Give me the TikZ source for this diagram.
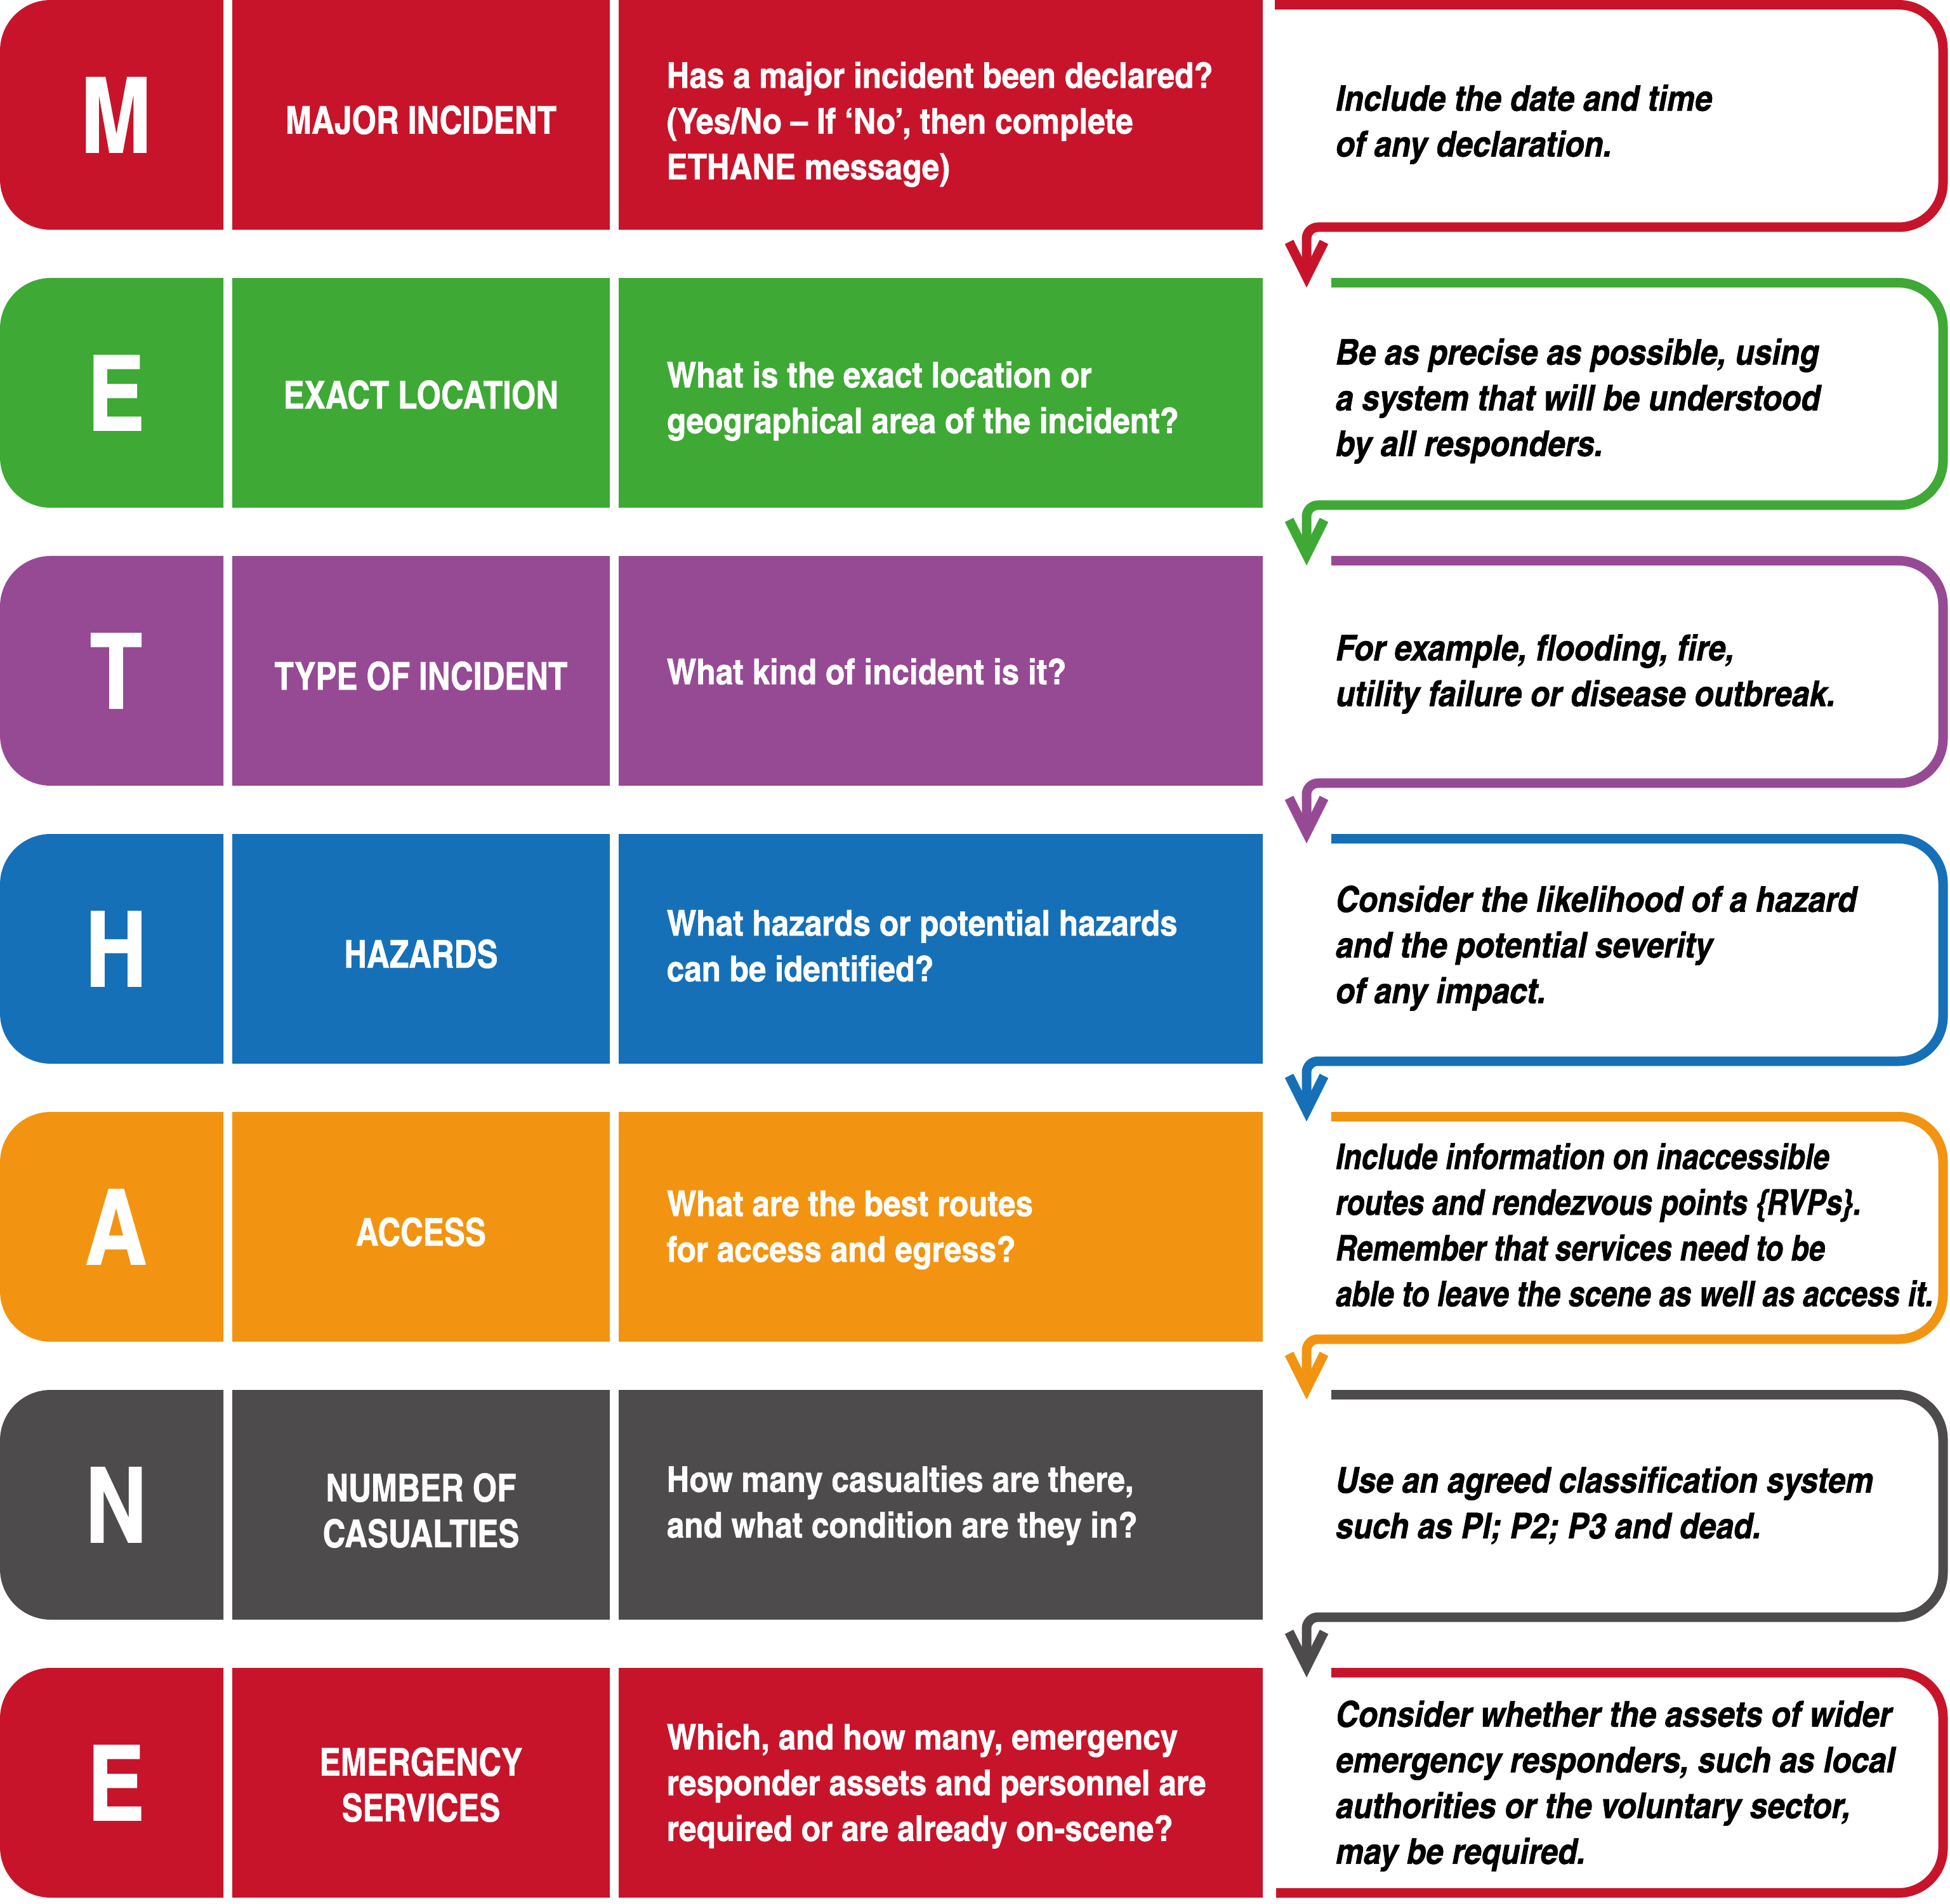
\documentclass[tikz,border=0pt]{standalone}
\usepackage{fontspec}
\setmainfont{texgyreheroscn}[Extension=.otf, UprightFont=*-regular, BoldFont=*-bold, ItalicFont=*-italic, BoldItalicFont=*-bolditalic, FakeBold=1]
\newfontfamily\widefont{texgyreheroscn}[Extension=.otf, UprightFont=*-regular, BoldFont=*-bold, ItalicFont=*-italic, BoldItalicFont=*-bolditalic, FakeStretch=1.08, FakeBold=1]
\usetikzlibrary{arrows.meta, positioning, calc}
\definecolor{mred}{HTML}{C8142A}
\definecolor{mgreen}{HTML}{3EA935}
\definecolor{mpurple}{HTML}{964A94}
\definecolor{mblue}{HTML}{1570B8}
\definecolor{morange}{HTML}{F29411}
\definecolor{mgrey}{HTML}{4D4B4C}
% the three coloured cells of a row, first one rounded on the left
\newcommand{\rowtabs}[2]{%
    \fill[#1, shift={(0,#2)}] (3.52,0) -- (0.8,0) arc[start angle=90, end angle=180, radius=0.8] -- (0,-2.82) arc[start angle=180, end angle=270, radius=0.8] -- (3.52,-3.62) -- cycle;
    \fill[#1, shift={(0,#2)}] (3.66,0) rectangle (9.61,-3.62);
    \fill[#1, shift={(0,#2)}] (9.75,0) rectangle (19.90,-3.62);}
% the outline round a hint, ending in an arrow to the next row
\newcommand{\hintframe}[2]{%
    \draw [noteframe, draw=#1, ->] (top#2) -- ($(top#2 -| rb#2)+(-0.7,0)$) arc[start angle=90, end angle=0, radius=0.7] -- ($(rb#2)+(0,0.7)$) arc[start angle=0, end angle=-90, radius=0.7] -- ($(tip#2 |- rb#2)+(0.18,0)$) arc[start angle=90, end angle=180, radius=0.18] -- (tip#2);}

\begin{document}
\begin{tikzpicture}[
    % GLOBAL CFG
    font=\bfseries,
    >={Straight Barb[sharp, length=5.5mm, width=5.5mm]},
    % Styles
    letter/.style={% The big initial
        text=white,
        inner sep=0pt,
        font=\fontsize{46.8}{50}\selectfont\bfseries,
        },
    labtext/.style={% Second column, name of the item
        text=white,
        inner sep=0pt,
        align=center,
        font=\fontsize{17.2}{20.5}\selectfont\bfseries,
        },
    asktext/.style={% Question inside the third column
        text=white,
        align=left,
        inner sep=0pt,
        anchor=west,
        font=\widefont\fontsize{15.9}{20.5}\selectfont\bfseries,
        },
    notetext/.style={% Hint on the right
        text=black,
        align=left,
        inner sep=0pt,
        anchor=west,
        font=\widefont\fontsize{15.9}{20.5}\selectfont\bfseries\itshape,
        },
    noteframe/.style={% Outline round the hint
        line width=1.5mm,
        },
    ]

\useasboundingbox (0,0) rectangle (30.73,-30);

% Draw the coloured cells
    \rowtabs{mred}{0}
    \rowtabs{mgreen}{-4.38}
    \rowtabs{mpurple}{-8.76}
    \rowtabs{mblue}{-13.14}
    \rowtabs{morange}{-17.52}
    \rowtabs{mgrey}{-21.90}
    \rowtabs{mred}{-26.28}

    % Initials named let#
    \node [letter] (let0) at (1.83,-1.81) {M};
    \node [letter] (let1) at (1.83,-6.19) {E};
    \node [letter] (let2) at (1.83,-10.57) {T};
    \node [letter] (let3) at (1.83,-14.95) {H};
    \node [letter] (let4) at (1.83,-19.33) {A};
    \node [letter] (let5) at (1.83,-23.71) {N};
    \node [letter] (let6) at (1.83,-28.09) {E};

    % Names named lab#
    \node [labtext] (lab0) at (6.635,-1.89) {MAJOR INCIDENT};
    \node [labtext] (lab1) at (6.635,-6.22) {EXACT LOCATION};
    \node [labtext] (lab2) at (6.635,-10.65) {TYPE OF INCIDENT};
    \node [labtext] (lab3) at (6.635,-15.03) {HAZARDS};
    \node [labtext] (lab4) at (6.635,-19.41) {ACCESS};
    \node [labtext] (lab5) at (6.635,-23.80) {NUMBER OF\\CASUALTIES};
    \node [labtext] (lab6) at (6.635,-28.12) {EMERGENCY\\SERVICES};

    % Questions named ask#
    \node [asktext] (ask0) at (10.5,-1.96) {Has a major incident been declared?\\(Yes/No – If ‘No’, then complete\\ETHANE message)};
    \node [asktext] (ask1) at (10.5,-6.32) {What is the exact location or\\geographical area of the incident?};
    \node [asktext] (ask2) at (10.5,-10.58) {What kind of incident is it?};
    \node [asktext] (ask3) at (10.5,-14.90) {What hazards or potential hazards\\can be identified?};
    \node [asktext] (ask4) at (10.5,-19.38) {What are the best routes\\for access and egress?};
    \node [asktext] (ask5) at (10.5,-23.72) {How many casualties are there,\\and what condition are they in?};
    \node [asktext] (ask6) at (10.5,-28.14) {Which, and how many, emergency\\responder assets and personnel are\\required or are already on-scene?};

    % Hints named note#
    \node [notetext] (note0) at (21.04,-1.96) {Include the date and time\\of any declaration.};
    \node [notetext] (note1) at (21.04,-6.32) {Be as precise as possible, using\\a system that will be understood\\by all responders.};
    \node [notetext] (note2) at (21.04,-10.62) {For example, flooding, fire,\\utility failure or disease outbreak.};
    \node [notetext] (note3) at (21.04,-14.94) {Consider the likelihood of a hazard\\and the potential severity\\of any impact.};
    \node [notetext, font=\fontsize{15.9}{20.5}\selectfont\bfseries\itshape] (note4) at (21.04,-19.30) {Include information on inaccessible\\routes and rendezvous points \{RVPs\}.\\Remember that services need to be\\able to leave the scene as well as access it.};
    \node [notetext] (note5) at (21.04,-23.72) {Use an agreed classification system\\such as Pl; P2; P3 and dead.};
    \node [notetext] (note6) at (21.04,-28.14) {Consider whether the assets of wider\\emergency responders, such as local\\authorities or the voluntary sector,\\may be required.};

    % Corners of the outlines: top# start, rb# bottom right, tip# arrow end
    \coordinate (top0) at (20.09,-0.075);
    \coordinate (top1) at (20.98,-4.455);
    \coordinate (top2) at (20.98,-8.835);
    \coordinate (top3) at (20.98,-13.215);
    \coordinate (top4) at (20.98,-17.595);
    \coordinate (top5) at (20.98,-21.975);
    \coordinate (top6) at (20.98,-26.355);
    \coordinate (rb0) at (30.62,-3.58);
    \coordinate (rb1) at (30.62,-7.96);
    \coordinate (rb2) at (30.62,-12.34);
    \coordinate (rb3) at (30.62,-16.72);
    \coordinate (rb4) at (30.62,-21.10);
    \coordinate (rb5) at (30.62,-25.48);
    \coordinate (rb6) at (30.62,-29.825);
    \coordinate (tip0) at (20.59,-4.53);
    \coordinate (tip1) at (20.59,-8.91);
    \coordinate (tip2) at (20.59,-13.29);
    \coordinate (tip3) at (20.59,-17.67);
    \coordinate (tip4) at (20.59,-22.05);
    \coordinate (tip5) at (20.59,-26.43);
    \coordinate (end6) at (20.11,-29.825);

% Draw the outlines, each one pointing to the next row
    \hintframe{mred}{0}
    \hintframe{mgreen}{1}
    \hintframe{mpurple}{2}
    \hintframe{mblue}{3}
    \hintframe{morange}{4}
    \hintframe{mgrey}{5}
    \draw [noteframe, draw=mred] (top6) -- ($(top6 -| rb6)+(-0.7,0)$) arc[start angle=90, end angle=0, radius=0.7] -- ($(rb6)+(0,0.7)$) arc[start angle=0, end angle=-90, radius=0.7] -- (end6);

\end{tikzpicture}
\end{document}
